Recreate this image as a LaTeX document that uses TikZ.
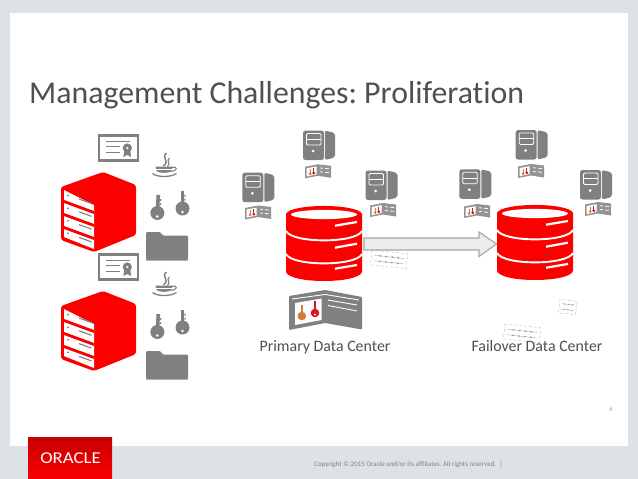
\documentclass[tikz,border=0pt]{standalone}
\usepackage{fontspec}
\setmainfont[Ligatures=CommonOff]{Carlito}
\frenchspacing
\definecolor{orared}{RGB}{252,0,0}
\definecolor{icongray}{RGB}{128,128,128}
\definecolor{slidebg}{RGB}{221,227,228}
\definecolor{txtgray}{RGB}{80,80,80}
\definecolor{keyorange}{RGB}{205,125,60}
\definecolor{keyred}{RGB}{215,20,40}
\tikzset{
  pagebg/.style={fill=slidebg,draw=none},
  caption/.style={font=\fontsize{15.9pt}{17pt}\selectfont,text=txtgray,inner sep=0pt},
  dashbox/.style={draw=gray!60,densely dashed,line width=0.3pt,fill=white},
  paperink/.style={draw=gray!75,line width=.35pt}
}
\newcommand{\cube}[2]{\begin{scope}[shift={(#1,#2)}]
 \fill[orared,rounded corners=2.5pt] (0,15)--(42,0)--(75,13)--(75,63)--(33,80)--(0,68)--cycle;
 \fill[white] (3,18)--(33,33)--(33,77)--(3,65)--cycle;
 \foreach \d in {0,1,2}{
  \fill[orared] (3,{28+\d*13})--(33,{39+\d*13})--(33,{42+\d*13})--(3,{31+\d*13})--cycle;
 }
 \foreach \d in {0,1,2,3}{
  \fill[black!65] (7,{23.7+\d*12.5}) circle (0.9);
  \draw[gray,line width=1.1pt] (18,{27+\d*12.8})--(30.5,{31.5+\d*12.8});
 }
\end{scope}}
\newcommand{\cert}[2]{\begin{scope}[shift={(#1,#2)}]
 \fill[icongray] (0,0) rectangle (41.5,27.5);
 \fill[white] (2.7,2.7) rectangle (38.8,24.8);
 \draw[icongray,line width=.8pt] (8,7.5)--(32,7.5) (8,12.5)--(22,12.5) (8,18)--(22,18);
 \fill[icongray] (26.6,17)--(32.6,17)--(33.5,23)--(29.6,21)--(25.7,23)--cycle;
 \fill[icongray] (29.6,14) circle (4.6);
 \fill[white] (29.6,14) circle (1.2);
\end{scope}}
\newcommand{\javacup}[2]{\begin{scope}[shift={(#1,#2)}]
 \draw[icongray,line width=1.5pt] (15,0) .. controls (9,5) and (19,7) .. (12,13);
 \draw[icongray,line width=1.1pt] (18,5) .. controls (14,8) and (20,10) .. (16,13.5);
 \fill[icongray] (4,13.5) -- (21,13.5) -- (20,18) .. controls (17,20.5) and (8,20.5) .. (5,18) -- cycle;
 \draw[white,line width=.6pt] (4,15.8)--(21,15.8);
 \draw[icongray,line width=1pt] (20.5,14.5) .. controls (27,13) and (26,18) .. (19,18.5);
 \draw[icongray,line width=1.3pt] (1,20.5) .. controls (6,24.5) and (19,24.5) .. (25,20.5);
\end{scope}}
\newcommand{\onekey}[3]{\begin{scope}[shift={(#1,#2)},rotate=#3]
 \fill[icongray] (-1.8,0) rectangle (1.8,13);
 \fill[icongray] (1.8,4) rectangle (3.2,6) (1.8,8) rectangle (3.2,10);
 \fill[icongray] (0,18) circle (7);
 \fill[white] (0,21.5) circle (1.4);
\end{scope}}
\newcommand{\folder}[2]{\begin{scope}[shift={(#1,#2)}]
 \fill[icongray,rounded corners=1pt] (0,28)--(0,0)--(14,0)--(17,3.5)--(42,3.5)--(42,28)--cycle;
 \draw[gray!60,line width=.5pt] (0,28)--(42,28);
\end{scope}}
\newcommand{\tower}[2]{\begin{scope}[shift={(#1,#2)}]
 \fill[icongray,rounded corners=2.5pt] (0,0)--(21,0)--(21,29.5)--(0,29.5)--cycle;
 \fill[icongray,rounded corners=2pt] (22,0)--(32,2.5)--(32,27)--(22,29.5)--cycle;
 \draw[white,line width=.8pt,rounded corners=1.2pt] (3.5,3)rectangle (18,14.5);
 \draw[white,line width=.8pt] (3.5,8.7)--(18,8.7);
 \fill[white] (10,20.5) circle (1.5);
\end{scope}}
\newcommand{\minicards}[2]{\begin{scope}[shift={(#1,#2)}]
 \fill[icongray!85] (0,2.5)--(13,0)--(26,1.5)--(26,13.5)--(13,11.5)--(0,14)--cycle;
 \fill[white] (1.5,4)--(11.5,2.2)--(11.5,10)--(1.5,12.3)--cycle;
 \fill[keyorange] (4.6,4.5) rectangle (5.6,8.5);\fill[keyorange] (5.1,9.5) circle (1.6);
 \fill[keyred] (8.3,3.5) rectangle (9.3,8);\fill[keyred] (8.8,8.7) circle (1.6);
 \draw[white,line width=.8pt] (15,3.7)--(18,4) (20,4.2)--(24,4.5) (15,7.5)--(18,7.8) (20,8)--(24,8.3);
\end{scope}}
\newcommand{\database}[2]{\begin{scope}[shift={(#1,#2)}]
 \fill[orared] (0,8) -- (0,66) .. controls (4,78) and (72,78) .. (76,66) -- (76,8) .. controls (72,-2.7) and (4,-2.7) .. (0,8) -- cycle;
 \fill[white] (38,8.5) ellipse (33 and 4.6);
 \draw[white,line width=1.9pt] (0,25) .. controls (6,37.5) and (70,37.5) .. (76,25);
 \draw[white,line width=1.9pt] (0,48) .. controls (6,60.5) and (70,60.5) .. (76,48);
 \draw[white,line width=2.2pt] (49,19.7)--(71,16) (49,41.7)--(71,37.7) (49,62.7)--(71,59);
\end{scope}}
\newcommand{\paperA}[2]{\begin{scope}[shift={(#1,#2)},rotate=-6]
 \draw[dashbox] (0,0) rectangle (36,15);
 \draw[paperink] (3,5)--(33,5) (3,10.5)--(33,10.5);
 \foreach \x in {9,15,21,27}{\fill[gray!75] (\x,5) circle (1);\fill[gray!75] (\x,10.5) circle (1);}
\end{scope}}
\newcommand{\paperB}[2]{\begin{scope}[shift={(#1,#2)},rotate=-6]
 \draw[dashbox] (0,0) rectangle (17,13.5);
 \draw[paperink] (2,4)--(15,4) (2,9.5)--(15,9.5);
 \foreach \x in {5,9,13}{\fill[gray!75] (\x,4) circle (.7);\fill[gray!75] (\x,9.5) circle (.7);}
\end{scope}}
\begin{document}
\begin{tikzpicture}[x=1pt,y=-1pt]
\useasboundingbox (0,0) rectangle (638,479);
\fill[pagebg] (0,0) rectangle (638,479);
\fill[white] (10,13) rectangle (628,446);
\node[anchor=base west,inner sep=0pt,text=txtgray,font=\fontsize{31.8pt}{34pt}\selectfont] (title) at (29,103) {Management Challenges: Proliferation};
\cube{61}{172}\cert{97.7}{134}\javacup{151.5}{153}
\onekey{158.3}{195}{-3}\onekey{182.5}{190.5}{0}\folder{146}{232}
\cube{61}{291}\cert{97.7}{253}\javacup{151.5}{272}
\onekey{158.3}{314}{-3}\onekey{182.5}{309.5}{0}\folder{146}{351}
\tower{242.3}{172.7}\minicards{245}{205.5}
\tower{303}{130.5}\minicards{305}{164.3}
\tower{365.5}{170.5}\minicards{370}{203}
\database{286}{206}
\paperA{372}{250}
\begin{scope}[shift={(289,290)}]
 \fill[icongray,rounded corners=1pt] (0,6)--(36,0)--(73,7)--(73,39.5)--(36,33)--(0,40)--cycle;
 \draw[white,line width=.9pt] (3,9)--(36,4.5)--(70,10);
 \fill[white] (6,13)--(32.7,8.5)--(32.7,30)--(6,35)--cycle;
 \fill[keyorange] (11.8,15) rectangle (13.8,24);\fill[keyorange] (12.8,26) circle (4.3);
 \fill[keyred] (25,11) rectangle (27,20);\fill[keyred] (26,23) circle (4.3);
 \fill[white] (26,24.5) circle (1);
 \draw[white,line width=.9pt] (39,10)--(68,15) (39,15.5)--(68,21);
\end{scope}
\coordinate (arrowA) at (364,244);
\coordinate (arrowB) at (497,244);
\fill[slidebg!65!white,draw=gray!70,line width=1.1pt] (364,238)--(479,238)--(479,232)--(496.5,244)--(479,256.5)--(479,250)--(364,250)--cycle;
\tower{459.3}{169.3}\minicards{464}{204}
\tower{515.7}{130}\minicards{518}{164}
\tower{580}{170}\minicards{585}{202}
\database{497}{205}
\paperB{560}{299.5}
\paperA{505}{324}
\node[caption,anchor=base] (cap1) at (325,351) {Primary Data Center};
\node[caption,anchor=base] (cap2) at (537,351) {Failover Data Center};
\node[anchor=base,inner sep=0pt,text=gray!70,font=\fontsize{6.5pt}{7pt}\selectfont] (pg) at (611,411) {6};
\shade[top color=orared!78!black,bottom color=orared] (28,437) rectangle (112,479);
\node[anchor=center,inner sep=0pt,text=white,xscale=1.13,font=\fontsize{16.6pt}{18pt}\selectfont] (logo) at (70.5,458.5) {ORACLE};
\node[anchor=base west,inner sep=0pt,text=gray,font=\fontsize{7pt}{8pt}\selectfont] (copy) at (314,466.5) {Copyright © 2015 Oracle and/or its affiliates. All rights reserved.\ \ |};
\end{tikzpicture}
\end{document}
